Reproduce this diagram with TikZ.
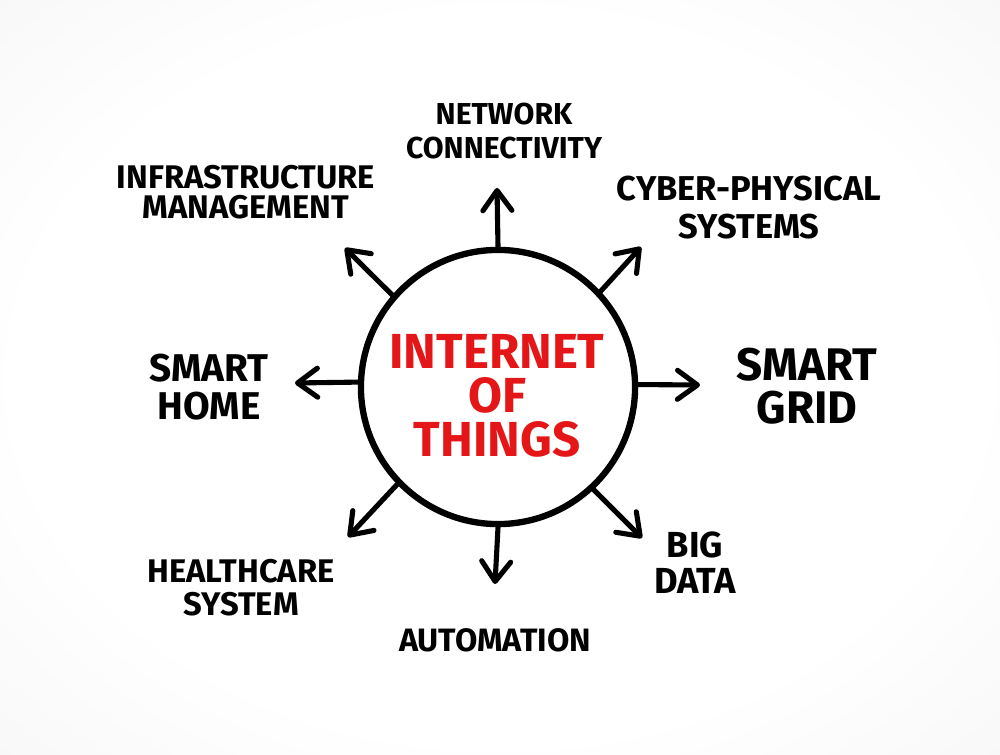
\documentclass[tikz,border=0pt]{standalone}
\usepackage{fontspec}
\setmainfont{Fira Sans}
\usetikzlibrary{arrows.meta}

\definecolor{iotred}{RGB}{228,22,24}
\pgfdeclareradialshading{paper}{\pgfpoint{0bp}{0bp}}{color(0bp)=(white); color(24bp)=(white); color(71bp)=(black!11)}

\tikzset{
    spoke/.style={line width=1.45pt, line cap=round, -{Straight Barb[length=2mm,width=2.9mm,round]}},
    topic/.style 2 args={font=\bfseries\fontsize{#1}{#2}\selectfont, align=center, inner sep=0pt},
}

\begin{document}
\begin{tikzpicture}[x=0.01cm,y=-0.01cm]
    \shade[shading=paper] (0,0) rectangle (1000,755);
    \useasboundingbox (0,0) rectangle (1000,755);

    \node[draw, circle, line width=1.8pt, minimum size=2.74cm, inner sep=0pt] (iot) at (498,387) {};
    \node[text=iotred, topic={14}{12.6}] (iotname) at (497,396) {INTERNET\\OF\\THINGS};

    \node[topic={8.6}{9.6}] (network) at (504,131) {NETWORK\\CONNECTIVITY};
    \node[topic={9.3}{8.6}] (infra) at (246,192) {INFRASTRUCTURE\\MANAGEMENT};
    \node[topic={9.8}{10.8}] (cyber) at (749,208) {CYBER-PHYSICAL\\SYSTEMS};
    \node[topic={11}{10.6}] (home) at (209,387) {SMART\\HOME};
    \node[topic={13}{12.2}] (grid) at (807,386) {SMART\\GRID};
    \node[topic={9.3}{9.3}] (health) at (241,588) {HEALTHCARE\\SYSTEM};
    \node[topic={10.3}{10.2}] (bigdata) at (695,563) {BIG\\DATA};
    \node[topic={9.2}{10}] (automation) at (495,640) {AUTOMATION};

    % arrow tips
    \coordinate (tipN) at (497,188);
    \coordinate (tipNE) at (641,247);
    \coordinate (tipE) at (700,385);
    \coordinate (tipSE) at (642,538);
    \coordinate (tipS) at (495,584);
    \coordinate (tipSW) at (348,537);
    \coordinate (tipW) at (295,383);
    \coordinate (tipNW) at (345,248);

    \draw[spoke] (iot.90) -- (tipN);
    \draw[spoke] (iot.43) -- (tipNE);
    \draw[spoke] (iot.1) -- (tipE);
    \draw[spoke] (iot.-47) -- (tipSE);
    \draw[spoke] (iot.-90) -- (tipS);
    \draw[spoke] (iot.-136) -- (tipSW);
    \draw[spoke] (iot.178) -- (tipW);
    \draw[spoke] (iot.139) -- (tipNW);
\end{tikzpicture}
\end{document}
